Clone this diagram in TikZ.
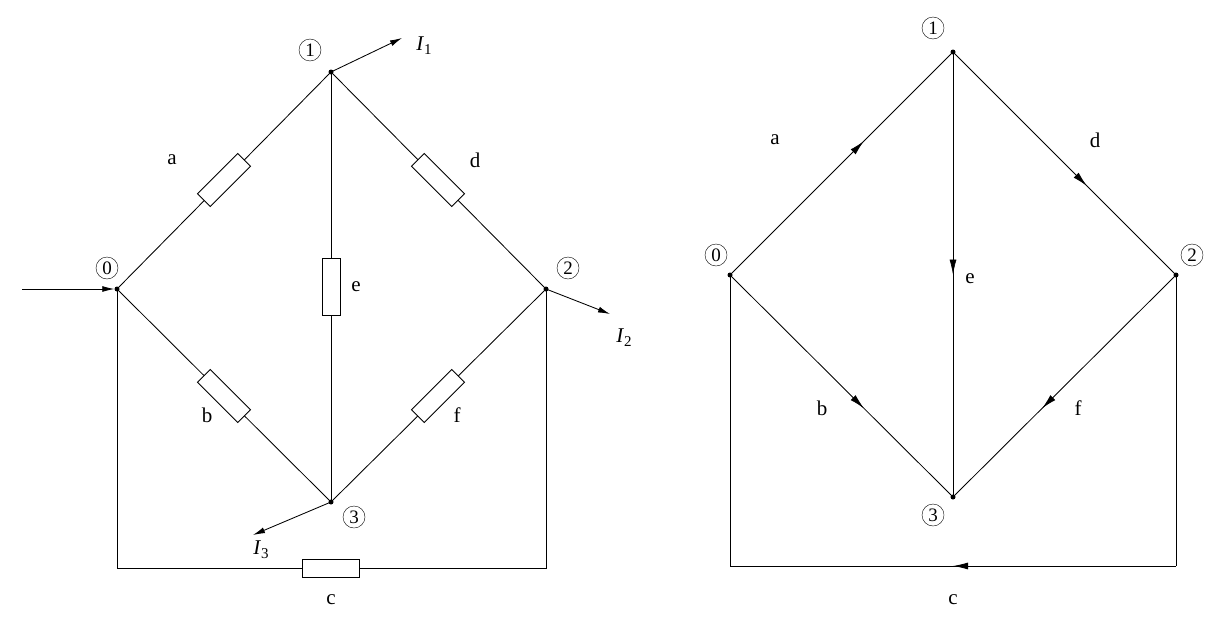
\documentclass[tikz,border=0pt]{standalone}
\usepackage{fontspec}
\setmainfont{Liberation Serif}
\usetikzlibrary{decorations.markings,arrows.meta}
\begin{document}
\begin{tikzpicture}[x=1pt,y=-1pt,
  lbl/.style={font=\fontsize{21}{24}\selectfont},
  num/.style={circle,draw,inner sep=0pt,minimum size=22pt,font=\fontsize{19}{21}\selectfont},
  dot/.style={circle,fill,inner sep=0pt,minimum size=5pt},
  res/.style={draw,line width=0.8pt,fill=white,minimum width=57pt,minimum height=18pt,inner sep=0pt},
  wire/.style={line width=0.85pt},
  arr/.style={wire,-{Latex[length=12pt,width=6pt]}},
  mid/.style={wire,postaction={decorate},decoration={markings,mark=at position #1 with {\arrow{Latex[length=15pt,width=7pt]}}}}]
\useasboundingbox (0,0) rectangle (1226,621);
% left
\node[dot] (L0) at (117,289) {};
\node[dot] (L1) at (331,72) {};
\node[dot] (L2) at (546,289) {};
\node[dot] (L3) at (331,502) {};
\draw[wire] (L0.center)--(L1.center)--(L2.center)--(L3.center)--(L0.center);
\draw[wire] (L1.center)--(L3.center);
\coordinate (BL) at (117,568); \coordinate (BR) at (546,568);
\draw[wire] (L0.center)--(BL)--(BR)--(L2.center);
\node[res,rotate=45] (ra) at (224,180) {};
\node[res,rotate=-45] (rd) at (438,180) {};
\node[res,rotate=-45] (rb) at (224,396) {};
\node[res,rotate=45] (rf) at (438,396) {};
\node[res,rotate=90] (re) at (331,287) {};
\node[res] (rc) at (331,568) {};
\node[lbl] at (172,160) {a};
\node[lbl] at (475,160) {d};
\node[lbl] at (356,287) {e};
\node[lbl] at (207,415) {b};
\node[lbl] at (457,415) {f};
\node[lbl] at (331,600) {c};
\node[num] at (107,268) {0};
\node[num] at (310,50) {1};
\node[num] at (568,268) {2};
\node[num] at (354,517) {3};
\coordinate (in) at (22,289);
\draw[arr] (in)--(L0);
\coordinate (i1) at (402,38); \draw[arr] (L1.center)--(i1);
\coordinate (i2) at (610,314); \draw[arr] (L2.center)--(i2);
\coordinate (i3) at (253,535); \draw[arr] (L3.center)--(i3);
\node[lbl] at (424,46) {\textit{I}\fontsize{15}{17}\selectfont\raisebox{-4pt}{1}};
\node[lbl] at (624,338) {\textit{I}\fontsize{15}{17}\selectfont\raisebox{-4pt}{2}};
\node[lbl] at (261,550) {\textit{I}\fontsize{15}{17}\selectfont\raisebox{-4pt}{3}};
% right
\node[dot] (R0) at (730,275) {};
\node[dot] (R1) at (953,52) {};
\node[dot] (R2) at (1176,275) {};
\node[dot] (R3) at (953,497) {};
\coordinate (CL) at (730,566); \coordinate (CR) at (1176,566);
\draw[mid=0.6] (R0.center)--(R1.center);
\draw[mid=0.6] (R1.center)--(R2.center);
\draw[mid=0.6] (R0.center)--(R3.center);
\draw[mid=0.6] (R2.center)--(R3.center);
\draw[mid=0.5,line width=0.6pt] (R1.center)--(R3.center);
\draw[wire] (R2.center)--(CR);
\draw[mid=0.5] (CR)--(CL);
\draw[wire] (CL)--(R0.center);
\node[lbl] at (775,140) {a};
\node[lbl] at (1095,140) {d};
\node[lbl] at (970,279) {e};
\node[lbl] at (822,408) {b};
\node[lbl] at (1078,408) {f};
\node[lbl] at (953,600) {c};
\node[num] at (716,255) {0};
\node[num] at (933,28) {1};
\node[num] at (1192,255) {2};
\node[num] at (933,515) {3};
\end{tikzpicture}
\end{document}
